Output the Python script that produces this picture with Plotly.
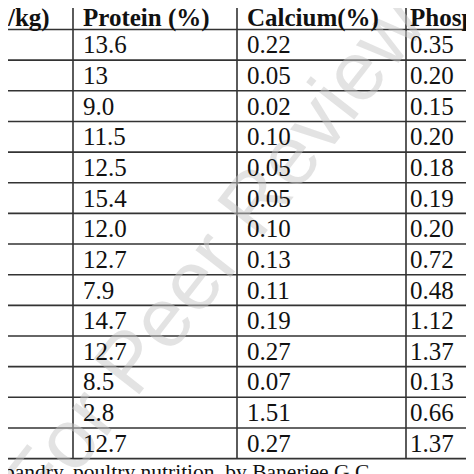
import plotly.graph_objects as go

headers = ["l/kg)", "Protein (%)", "Calcium(%)", "Phosp"]
protein = ["13.6", "13", "9.0", "11.5", "12.5", "15.4", "12.0", "12.7", "7.9", "14.7", "12.7", "8.5", "2.8", "12.7"]
calcium = ["0.22", "0.05", "0.02", "0.10", "0.05", "0.05", "0.10", "0.13", "0.11", "0.19", "0.27", "0.07", "1.51", "0.27"]
phosph = ["0.35", "0.20", "0.15", "0.20", "0.18", "0.19", "0.20", "0.72", "0.48", "1.12", "1.37", "0.13", "0.66", "1.37"]
footnote = "bandry, poultry nutrition, by Banerjee G.C"
watermark = "For Peer Review"

W = 474
header_bottom = 21.5
row_h = 30.65
n = len(protein)
vlines = [65, 229, 398]
text_x = [0, 73, 237, 400]

fig = go.Figure()
shapes = []
lc = "#333333"
for i in range(n + 1):
    y = header_bottom + i * row_h
    shapes.append(dict(type="line", x0=0, x1=W, y0=y, y1=y, line=dict(color=lc, width=1.6)))
for x in vlines:
    shapes.append(dict(type="line", x0=x, x1=x, y0=0, y1=header_bottom + n * row_h, line=dict(color=lc, width=1.6)))

ann = []
ann.append(dict(x=205, y=245, text=watermark, showarrow=False, textangle=-52,
                font=dict(family="Liberation Sans", size=84, color="rgba(200,200,200,0.5)")))
serif = "Liberation Serif"
for j, h in enumerate(headers):
    ann.append(dict(x=text_x[j], y=header_bottom / 2 - 1, text="<b>%s</b>" % h, showarrow=False,
                    xanchor="left", yanchor="middle", xshift=-9 if j == 0 else 0,
                    font=dict(family=serif, size=25, color="#111")))
for col, vals in zip(text_x[1:], [protein, calcium, phosph]):
    for i, v in enumerate(vals):
        ann.append(dict(x=col, y=header_bottom + (i + 0.5) * row_h, text=v, showarrow=False,
                        xanchor="left", yanchor="middle",
                        font=dict(family=serif, size=25, color="#111")))
ann.append(dict(x=0, y=header_bottom + n * row_h + 13, text=footnote, showarrow=False,
                xanchor="left", yanchor="middle", xshift=-6,
                font=dict(family=serif, size=21.5, color="#111")))

fig.update_layout(width=W, height=W, margin=dict(l=0, r=0, t=0, b=0),
                  paper_bgcolor="white", plot_bgcolor="white",
                  xaxis=dict(range=[0, W], visible=False, fixedrange=True),
                  yaxis=dict(range=[W, 0], visible=False, fixedrange=True),
                  shapes=shapes, annotations=ann, showlegend=False)
fig.write_html("out.html", config={"displayModeBar": False})
